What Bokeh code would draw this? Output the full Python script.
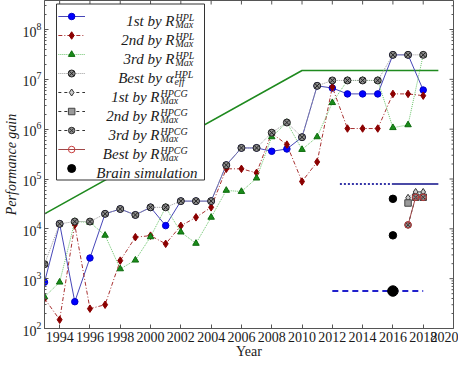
from bokeh.plotting import figure
from bokeh.models import Range1d, FixedTicker, LinearScale, Label, BoxAnnotation
from bokeh.embed import file_html
from bokeh.resources import INLINE

# ---------------- data ----------------
years = [1993, 1994, 1995, 1996, 1997, 1998, 1999, 2000, 2001, 2002, 2003, 2004, 2005,
         2006, 2007, 2008, 2009, 2010, 2011, 2012, 2013, 2014, 2015, 2016, 2017, 2018]
first_hpl = [850, 1.26e4, 345, 2600, 2.0e4, 2.5e4, 1.9e4, 2.7e4, 1.16e4, 3.6e4, 3.6e4, 3.6e4, 1.9e5,
             4.2e5, 4.2e5, 3.6e5, 4.0e5, 6.9e5, 7.4e6, 6.7e6, 5.1e6, 5.1e6, 5.1e6, 3.1e7, 3.1e7, 6.1e6]
second_hpl = [400, 150, 1.2e4, 250, 300, 2300, 6800, 7300, 5000, 1.15e4, 1.7e4, 2.7e4, 1.6e5,
              1.6e5, 1.33e5, 8.3e5, 4.9e5, 8.9e4, 2.2e5, 7.0e6, 1.03e6, 1.03e6, 1.03e6, 5.1e6, 5.1e6, 4.7e6]
third_hpl = [430, 850, 1.4e4, 1.35e4, 7400, 1570, 2350, 6900, 2.7e4, 8600, 5100, 1.7e4, 5.9e4,
             5.6e4, 1.04e5, 7.0e5, 1.36e6, 3.9e5, 7.0e5, 3.4e6, 9.5e6, 9.5e6, 9.5e6, 1.07e6, 1.22e6, 3.1e7]
best_alpha = [1950, 1.26e4, 1.4e4, 1.4e4, 2.0e4, 2.5e4, 1.9e4, 2.7e4, 2.7e4, 3.6e4, 3.6e4, 3.6e4, 1.9e5,
              4.2e5, 4.2e5, 8.5e5, 1.36e6, 6.9e5, 7.4e6, 9.5e6, 9.5e6, 9.5e6, 9.5e6, 3.1e7, 3.1e7, 3.1e7]

hpcg_years = [2017, 2017.5, 2018]
first_hpcg = [4.2e4, 5.5e4, 5.5e4]
second_hpcg = [3.3e4, 4.3e4, 4.3e4]
third_hpcg = [1.2e4, 4.3e4, 4.3e4]
best_hpcg = [1.2e4, 4.3e4, 4.3e4]

brain_years = [2016, 2016, 2016]
brain_values = [4.0e4, 7.4e3, 565]

peak_years = [1993, 2010, 2019]
peak_values = [2.0e4, 1.5e7, 1.5e7]

upper_dotted_years = [2012.5, 2016]
upper_solid_years = [2016, 2019]
upper_value = [7.9e4, 7.9e4]
lower_years = [2012, 2018]
lower_value = [565, 565]

x_ticks = [1994, 1996, 1998, 2000, 2002, 2004, 2006, 2008, 2010, 2012, 2014, 2016, 2018, 2020]
y_ticks = [1e2, 1e3, 1e4, 1e5, 1e6, 1e7, 1e8]
y_minor = [m * t for t in y_ticks for m in [2, 3, 4, 5, 6, 7, 8, 9]]

x_title = "Year"
y_title = "Performance gain"
legend_main = ["1st by R", "2nd by R", "3rd by R", "Best by α", "1st by R",
               "2nd by R", "3rd by R", "Best by R", "Brain simulation"]
legend_sup = ["HPL", "HPL", "HPL", "HPL", "HPCG", "HPCG", "HPCG", "HPCG", ""]
legend_sub = ["Max", "Max", "Max", "eff", "Max", "Max", "Max", "Max", ""]

# ---------------- layout constants (pixels) ----------------
FONT = "Liberation Serif"
AX = "#555555"
TXT = "#1a1a1a"
W, H = 458, 366
B_LEFT, B_RIGHT, B_TOP, B_BOTTOM = 39, 5, 0, 38
FRAME_W = W - B_LEFT - B_RIGHT          # 414
FRAME_H = H - B_TOP - B_BOTTOM          # 328
X0, X1 = 1993, 2020
FL, FB = 8 + B_LEFT, 8 + B_TOP + FRAME_H   # page x of frame left, page y of frame bottom
DECADE_PX = (FB - 37) / 6.0                # 10^8 sits at page y 37
Y_TOP = 10 ** (2 + FRAME_H / DECADE_PX)
PX_PER_YEAR = FRAME_W / (X1 - X0)

p = figure(width=W, height=H, x_range=Range1d(X0, X1), y_range=Range1d(1e2, Y_TOP),
           y_axis_type="log", output_backend="svg", toolbar_location=None,
           min_border_left=B_LEFT, min_border_right=B_RIGHT, min_border_top=B_TOP,
           min_border_bottom=B_BOTTOM)
p.background_fill_color = "white"
p.border_fill_color = "white"
p.outline_line_color = AX
p.outline_line_width = 1
p.grid.visible = False

for ax in [p.xaxis[0], p.yaxis[0]]:
    ax.axis_line_color = AX
    ax.major_tick_line_color = AX
    ax.minor_tick_line_color = AX
    ax.major_tick_in = 4
    ax.major_tick_out = 0
    ax.minor_tick_in = 2
    ax.minor_tick_out = 0
    ax.major_label_text_font = FONT
    ax.major_label_text_font_size = "14px"
    ax.major_label_text_color = TXT
    ax.axis_label_text_font = FONT
    ax.axis_label_text_font_size = "14px"
    ax.axis_label_text_color = TXT

p.xaxis[0].ticker = FixedTicker(ticks=x_ticks, minor_ticks=[])
p.yaxis[0].ticker = FixedTicker(ticks=y_ticks, minor_ticks=y_minor)
p.xaxis[0].axis_label = x_title
p.xaxis[0].axis_label_text_font_style = "normal"
p.xaxis[0].major_label_standoff = 3
p.xaxis[0].axis_label_standoff = -1
p.yaxis[0].axis_label = y_title
p.yaxis[0].axis_label_text_font_style = "italic"
p.yaxis[0].major_label_standoff = 3
p.yaxis[0].axis_label_standoff = 1

# mirrored tick marks on top and right edges (derived from the tick lists)
top_in = Y_TOP / 10 ** (4 / DECADE_PX)
p.segment(x0=x_ticks, y0=[Y_TOP] * len(x_ticks), x1=x_ticks, y1=[top_in] * len(x_ticks),
          line_color=AX, line_width=1)
p.segment(x0=[X1] * len(y_ticks), y0=y_ticks, x1=[X1 - 4 / PX_PER_YEAR] * len(y_ticks), y1=y_ticks,
          line_color=AX, line_width=1)
p.segment(x0=[X1] * len(y_minor), y0=y_minor, x1=[X1 - 2 / PX_PER_YEAR] * len(y_minor), y1=y_minor,
          line_color=AX, line_width=1)

# reference lines (not in legend)
p.line(peak_years, peak_values, line_color="#1f8a1f", line_width=1.6)
p.line(upper_dotted_years, upper_value, line_color="#3535a8", line_width=2, line_dash="2 2")
p.line(upper_solid_years, upper_value, line_color="#4a4aa6", line_width=2)
p.line(lower_years, lower_value, line_color="#2020cc", line_width=2, line_dash="6 4")

# series styles: (line color, dash, marker, size, fill, marker line)
styles = [
    ("#4646b8", "solid", "circle", 6.5, "#0000ff", "#0000c8"),
    ("#a83232", "4 2 1 2", "diamond", 7.5, "#8b0000", "#8b0000"),
    ("#6cc46c", "1 1", "triangle", 6.5, "#1a8c1a", "#0d6b0d"),
    ("#9a9a9a", "1 1", "circle_x", 7, "#8c8c8c", "#222222"),
    ("#333333", "3 3", "diamond", 7, "#cccccc", "#333333"),
    ("#333333", "3 3", "square", 6.5, "#9a9a9a", "#444444"),
    ("#333333", "3 3", "circle_x", 6.5, "#8c8c8c", "#333333"),
    ("#a04848", "solid", "circle", 6.5, None, "#c83c3c"),
]
series = [(years, first_hpl), (years, second_hpl), (years, third_hpl), (years, best_alpha),
          (hpcg_years, first_hpcg), (hpcg_years, second_hpcg), (hpcg_years, third_hpcg),
          (hpcg_years, best_hpcg)]
for (xs, ys), (lc, dash, mk, sz, fc, mlc) in zip(series, styles):
    p.line(xs, ys, line_color=lc, line_width=1, line_dash=dash)
    p.scatter(xs, ys, marker=mk, size=sz, fill_color=fc, line_color=mlc)

# brain simulation
p.scatter(brain_years[:2], brain_values[:2], marker="circle", size=7.5, fill_color="black", line_color="black")
p.scatter(brain_years[2:], brain_values[2:], marker="circle", size=10.5, fill_color="black", line_color="black")

# ---------------- legend (drawn by hand, frame pixel coordinates) ----------------
p.extra_x_ranges = {"leg": Range1d(0, FRAME_W)}
p.extra_y_ranges = {"leg": Range1d(0, FRAME_H)}
p.extra_x_scales = {"leg": LinearScale()}
p.extra_y_scales = {"leg": LinearScale()}

box = BoxAnnotation(left=59 - FL, right=207 - FL, top=FB - 11.5, bottom=FB - 187.5,
                    left_units="screen", right_units="screen", top_units="screen", bottom_units="screen",
                    fill_color="white", fill_alpha=1.0, line_color="#333333", line_width=1, line_alpha=1.0)
p.add_layout(box)

row_centers = [24 + 19 * i for i in range(9)]   # page y of each legend row
sample_x = [61 - FL, 88 - FL]
marker_x = [74.5 - FL]
legend_styles = styles + [(None, None, "circle", 8, "black", "black")]
for i, (lc, dash, mk, sz, fc, mlc) in enumerate(legend_styles):
    fy = FB - row_centers[i]
    if lc is not None:
        r = p.line(sample_x, [fy, fy], x_range_name="leg", y_range_name="leg",
                   line_color=lc, line_width=1, line_dash=dash)
        r.level = "overlay"
    r = p.scatter(marker_x, [fy], x_range_name="leg", y_range_name="leg", marker=mk, size=sz,
                  fill_color=fc, line_color=mlc)
    r.level = "overlay"

for i in range(len(legend_main)):
    c = row_centers[i]
    if legend_sup[i] == "":
        xr = 200
    elif legend_sup[i] == "HPCG":
        xr = 162
    elif legend_sub[i] == "eff":
        xr = 176
    else:
        xr = 177
    p.add_layout(Label(x=xr - FL, y=FB - (c + 4.5), x_units="screen", y_units="screen",
                       text=legend_main[i], text_align="right", text_baseline="alphabetic",
                       text_font=FONT, text_font_style="italic", text_font_size="15px",
                       text_color=TXT))
    if legend_sup[i]:
        p.add_layout(Label(x=xr + 1 - FL, y=FB - (c + 0.5), x_units="screen", y_units="screen",
                           text=legend_sup[i], text_align="left", text_baseline="alphabetic",
                           text_font=FONT, text_font_style="italic", text_font_size="10px",
                           text_color=TXT))
        p.add_layout(Label(x=xr + 1 - FL, y=FB - (c + 8), x_units="screen", y_units="screen",
                           text=legend_sub[i], text_align="left", text_baseline="alphabetic",
                           text_font=FONT, text_font_style="italic", text_font_size="10px",
                           text_color=TXT))

open("out.html", "w").write(file_html(p, INLINE))
